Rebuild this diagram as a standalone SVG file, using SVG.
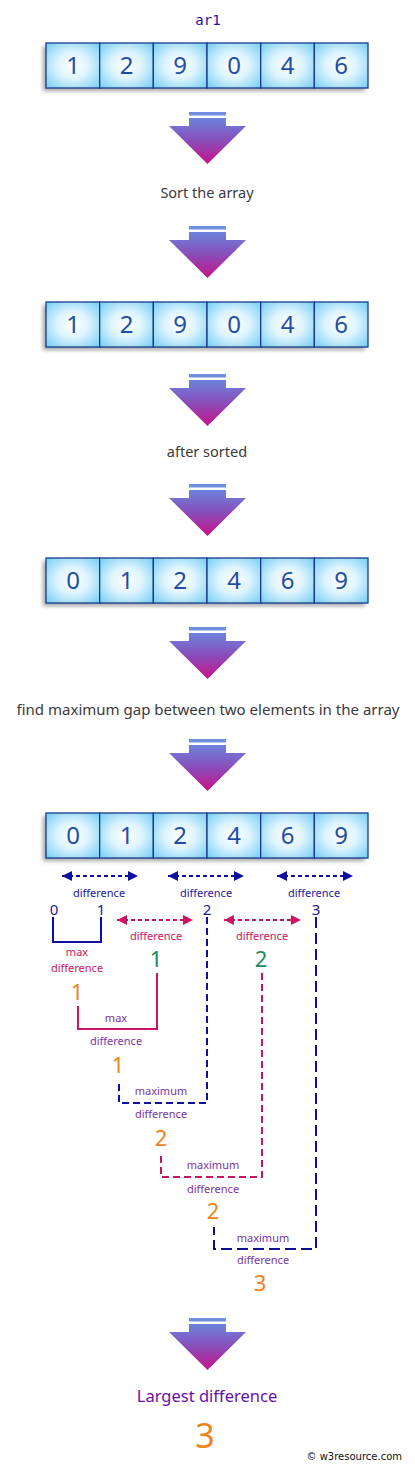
<svg xmlns="http://www.w3.org/2000/svg" width="415" height="1474" viewBox="0 0 415 1474">
<defs>
  <radialGradient id="cellg" cx="50%" cy="50%" r="65%">
    <stop offset="0" stop-color="#ffffff"/>
    <stop offset="0.45" stop-color="#def4fd"/>
    <stop offset="1" stop-color="#80d2f6"/>
  </radialGradient>
  <linearGradient id="arrg" x1="0" y1="0" x2="0" y2="1">
    <stop offset="0" stop-color="#6a84dc"/>
    <stop offset="0.5" stop-color="#8a4cb8"/>
    <stop offset="1" stop-color="#c8128a"/>
  </linearGradient>
  <filter id="shadow" x="-10%" y="-20%" width="120%" height="150%">
    <feDropShadow dx="-3" dy="3" stdDeviation="2" flood-color="#555" flood-opacity="0.55"/>
  </filter>
  <marker id="hb" viewBox="0 0 10 10" refX="10" refY="5" markerWidth="10" markerHeight="10" markerUnits="userSpaceOnUse" orient="auto-start-reverse">
    <path d="M0,0 L10,5 L0,10 Z" fill="#1010a0"/>
  </marker>
  <marker id="hp" viewBox="0 0 10 10" refX="10" refY="5" markerWidth="10" markerHeight="10" markerUnits="userSpaceOnUse" orient="auto-start-reverse">
    <path d="M0,0 L10,5 L0,10 Z" fill="#cc1462"/>
  </marker>
  <g id="cells">
    <rect x="46" y="0" width="322" height="45" fill="#80d2f6" filter="url(#shadow)"/>
    <rect x="46" y="0" width="53.67" height="45" class="cell"/>
    <rect x="99.67" y="0" width="53.67" height="45" class="cell"/>
    <rect x="153.33" y="0" width="53.67" height="45" class="cell"/>
    <rect x="207" y="0" width="53.67" height="45" class="cell"/>
    <rect x="260.67" y="0" width="53.67" height="45" class="cell"/>
    <rect x="314.33" y="0" width="53.67" height="45" class="cell"/>
  </g>
  <g id="flow">
    <rect x="189" y="0" width="37" height="3.5" fill="#6f90e0"/>
    <path d="M189,6 L226,6 L226,14 L246,14 L207.5,52 L169,14 L189,14 Z" fill="url(#arrg)"/>
  </g>
</defs>
<style>
  .cell { fill: url(#cellg); stroke: #1a3a8c; stroke-width: 1.3; }
  .dig { font-family: "Noto Sans", "DejaVu Sans", sans-serif; font-size: 24px; fill: #1f4ea6; text-anchor: middle; }
  .cap { font-family: "Noto Sans", "DejaVu Sans", sans-serif; font-size: 14.5px; fill: #3a3a3a; text-anchor: middle; }
  .lbl { font-family: "Noto Sans", "DejaVu Sans", sans-serif; font-size: 11px; text-anchor: middle; }
  .b { fill: #1a1aa0; }
  .p { fill: #cc1462; }
  .v { fill: #7a33a6; }
  .num { font-family: "Noto Sans", "DejaVu Sans", sans-serif; text-anchor: middle; }
  .g { fill: #1d8a5c; font-size: 22px; }
  .o { fill: #f0821e; font-size: 22px; }
  .bn { fill: #1a1aa0; font-size: 15px; }
  .dl { fill: none; stroke-width: 2; }
</style>

<g id="title-ar1">
  <text x="208" y="25" font-family="DejaVu Sans Mono, monospace" font-size="14" fill="#2a0ca6" text-anchor="middle">ar1</text>
</g>

<g id="array1">
  <use href="#cells" y="43"/>
  <text class="dig" x="73" y="74">1</text>
  <text class="dig" x="126.5" y="74">2</text>
  <text class="dig" x="180" y="74">9</text>
  <text class="dig" x="234" y="74">0</text>
  <text class="dig" x="287.5" y="74">4</text>
  <text class="dig" x="341" y="74">6</text>
</g>

<g id="step-sort"><text class="cap" x="207" y="198">Sort the array</text></g>

<g id="array2">
  <use href="#cells" y="302"/>
  <text class="dig" x="73" y="333">1</text>
  <text class="dig" x="126.5" y="333">2</text>
  <text class="dig" x="180" y="333">9</text>
  <text class="dig" x="234" y="333">0</text>
  <text class="dig" x="287.5" y="333">4</text>
  <text class="dig" x="341" y="333">6</text>
</g>

<g id="step-after"><text class="cap" x="207" y="457">after sorted</text></g>

<g id="array3">
  <use href="#cells" y="558"/>
  <text class="dig" x="73" y="589">0</text>
  <text class="dig" x="126.5" y="589">1</text>
  <text class="dig" x="180" y="589">2</text>
  <text class="dig" x="234" y="589">4</text>
  <text class="dig" x="287.5" y="589">6</text>
  <text class="dig" x="341" y="589">9</text>
</g>

<g id="step-find"><text class="cap" x="208" y="715" textLength="383" lengthAdjust="spacingAndGlyphs">find maximum gap between two elements in the array</text></g>

<g id="array4">
  <use href="#cells" y="813"/>
  <text class="dig" x="73" y="844">0</text>
  <text class="dig" x="126.5" y="844">1</text>
  <text class="dig" x="180" y="844">2</text>
  <text class="dig" x="234" y="844">4</text>
  <text class="dig" x="287.5" y="844">6</text>
  <text class="dig" x="341" y="844">9</text>
</g>

<g id="diff-labels">
  <text class="lbl b" x="99" y="897">difference</text>
  <text class="lbl b" x="206" y="897">difference</text>
  <text class="lbl b" x="314" y="897">difference</text>
  <text class="num bn" x="54" y="915">0</text>
  <text class="num bn" x="101" y="915">1</text>
  <text class="num bn" x="207" y="915">2</text>
  <text class="num bn" x="316" y="915">3</text>
  <text class="lbl p" x="156" y="940">difference</text>
  <text class="lbl p" x="262" y="940">difference</text>
  <text class="lbl p" x="77" y="956">max</text>
  <text class="lbl p" x="77" y="972">difference</text>
  <text class="num g" x="156" y="967">1</text>
  <text class="num g" x="261" y="967">2</text>
</g>

<g id="max-steps">
  <text class="num o" x="77" y="1000">1</text>
  <text class="lbl v" x="116" y="1022">max</text>
  <text class="lbl v" x="116" y="1045">difference</text>
  <text class="num o" x="118" y="1073">1</text>
  <text class="lbl v" x="161" y="1095">maximum</text>
  <text class="lbl v" x="161" y="1118">difference</text>
  <text class="num o" x="161" y="1146">2</text>
  <text class="lbl v" x="213" y="1169">maximum</text>
  <text class="lbl v" x="213" y="1193">difference</text>
  <text class="num o" x="213" y="1219">2</text>
  <text class="lbl v" x="263" y="1242">maximum</text>
  <text class="lbl v" x="263" y="1264">difference</text>
  <text class="num o" x="260" y="1291">3</text>
</g>

<g id="result">
  <text x="207" y="1402" font-family="Noto Sans, DejaVu Sans, sans-serif" font-size="16.5" fill="#6a0fa6" text-anchor="middle">Largest difference</text>
  <text x="205" y="1448" font-family="Noto Sans, DejaVu Sans, sans-serif" font-size="34" fill="#f0821e" text-anchor="middle">3</text>
</g>

<g id="credit">
  <text x="402" y="1460" font-family="DejaVu Sans, sans-serif" font-size="10" fill="#111" text-anchor="end">© w3resource.com</text>
</g>

<g id="connectors">
  <use href="#flow" y="112"/>
  <use href="#flow" y="226"/>
  <use href="#flow" y="374"/>
  <use href="#flow" y="484"/>
  <use href="#flow" y="627"/>
  <use href="#flow" y="739"/>
  <use href="#flow" y="1318"/>

  <line x1="62" y1="876" x2="138" y2="876" stroke="#1010a0" stroke-width="2" stroke-dasharray="4,3" marker-start="url(#hb)" marker-end="url(#hb)"/>
  <line x1="168" y1="876" x2="244" y2="876" stroke="#1010a0" stroke-width="2" stroke-dasharray="4,3" marker-start="url(#hb)" marker-end="url(#hb)"/>
  <line x1="277" y1="876" x2="353" y2="876" stroke="#1010a0" stroke-width="2" stroke-dasharray="4,3" marker-start="url(#hb)" marker-end="url(#hb)"/>
  <line x1="117" y1="920" x2="193" y2="920" stroke="#cc1462" stroke-width="2" stroke-dasharray="4,3" marker-start="url(#hp)" marker-end="url(#hp)"/>
  <line x1="224" y1="920" x2="301" y2="920" stroke="#cc1462" stroke-width="2" stroke-dasharray="4,3" marker-start="url(#hp)" marker-end="url(#hp)"/>

  <polyline class="dl" points="53,917 53,942 101,942 101,917" stroke="#1010a0"/>
  <polyline class="dl" points="157,973 157,1029 78,1029 78,1006" stroke="#cc1462"/>
  <polyline class="dl" points="207,917 207,1103 119,1103 119,1081" stroke="#1010a0" stroke-dasharray="7,4"/>
  <polyline class="dl" points="262,973 262,1177 161,1177 161,1153" stroke="#c41666" stroke-dasharray="7,4"/>
  <polyline class="dl" points="316,917 316,1249 214,1249 214,1227" stroke="#0e0e90" stroke-dasharray="11,5"/>
</g>
</svg>
